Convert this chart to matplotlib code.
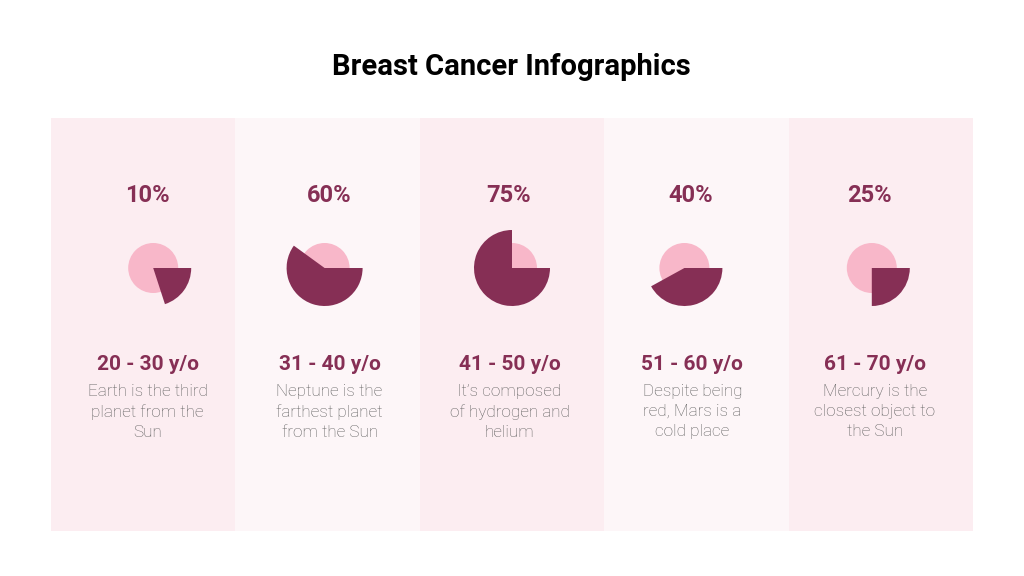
"""Breast cancer infographic: five age groups, each with a share wedge over a pink disc."""

import matplotlib
matplotlib.use("Agg")
import matplotlib.pyplot as plt
from matplotlib.patches import Circle, Rectangle, Wedge

title = "Breast Cancer Infographics"
pct_labels = ["10%", "60%", "75%", "40%", "25%"]
# share of the wedge as drawn in the reference (clockwise from east)
wedge_share = [20, 60, 75, 42, 25]
age_groups = ["20 - 30 y/o", "31 - 40 y/o", "41 - 50 y/o", "51 - 60 y/o", "61 - 70 y/o"]
descriptions = [
    "Earth is the third\nplanet from the\nSun",
    "Neptune is the\nfarthest planet\nfrom the Sun",
    "It\u2019s composed\nof hydrogen and\nhelium",
    "Despite being\nred, Mars is a\ncold place",
    "Mercury is the\nclosest object to\nthe Sun",
]

MAROON = "#862f55"
PINK = "#f8b7c9"
PANEL_A = "#fcedf1"
PANEL_B = "#fdf6f8"
BOLD_FONT = "Roboto"

W, H = 1024, 576
fig = plt.figure(figsize=(W / 100, H / 100), dpi=100)
ax = fig.add_axes([0, 0, 1, 1])
ax.set_xlim(0, W)
ax.set_ylim(H, 0)
ax.set_aspect("equal")
ax.axis("off")

left, right, top, bottom = 51, 973, 118, 531
col_w = (right - left) / len(pct_labels)
pie_dx = [10, -3, 0, -12, -9]
pct_dx = [4.5, 2, -3.5, -6, -11]
txt_dx = [4.5, 2, -2.5, -4, -6]

ax.text(W / 2 - 1, 67, title, ha="center", va="center", fontsize=21,
        fontweight="bold", family=BOLD_FONT, color="black")

for i, (pct, share, age, desc) in enumerate(zip(pct_labels, wedge_share, age_groups, descriptions)):
    x0 = left + i * col_w
    cx = x0 + col_w / 2
    ax.add_patch(Rectangle((x0, top), col_w, bottom - top,
                           color=PANEL_A if i % 2 == 0 else PANEL_B, lw=0))

    ax.text(cx + pct_dx[i], 196, pct, ha="center", va="center", fontsize=17,
            fontweight="bold", family=BOLD_FONT, color=MAROON)

    px, py = cx + pie_dx[i], 268
    ax.add_patch(Circle((px, py), 25, color=PINK, lw=0))
    # y axis is flipped, so counter-clockwise in data = clockwise on screen
    ax.add_patch(Wedge((px, py), 38, 0, share * 3.6, color=MAROON, lw=0))

    ax.text(cx + txt_dx[i], 365, age, ha="center", va="center", fontsize=15,
            fontweight="bold", family=BOLD_FONT, color=MAROON)
    ax.text(cx + txt_dx[i], 384, desc, ha="center", va="top", fontsize=12.3,
            family="Roboto", fontweight="light", color="#5f5f5f", linespacing=1.42)

fig.savefig("out.png", dpi=100)
plt.close(fig)
